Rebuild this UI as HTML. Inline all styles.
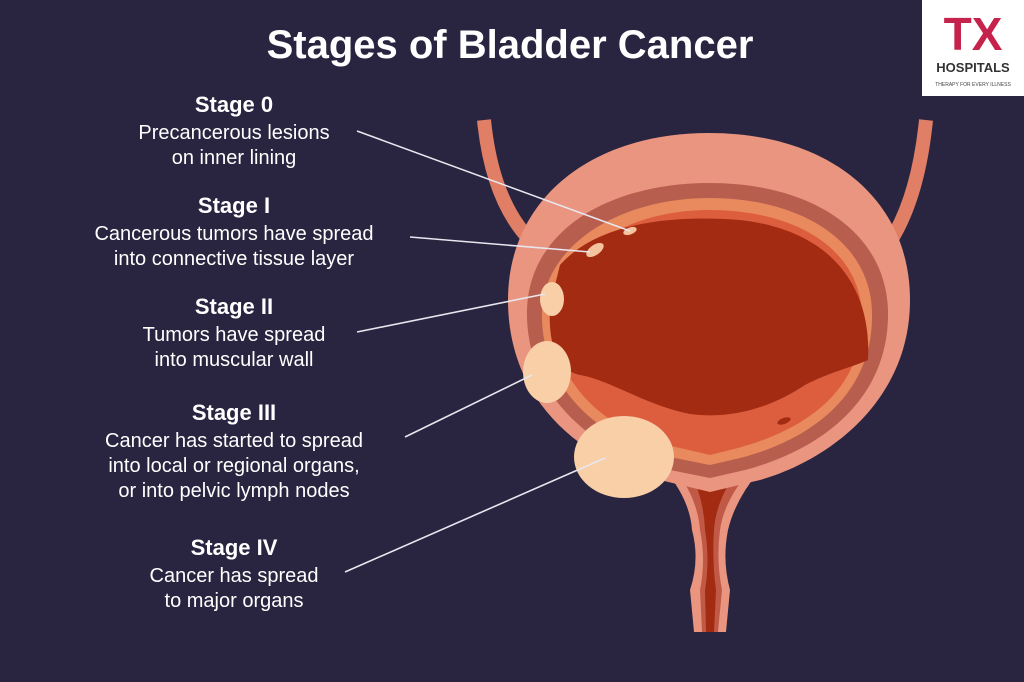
<!DOCTYPE html>
<html><head><meta charset="utf-8"><style>
html,body{margin:0;padding:0;background:#29243f;}
svg{display:block;}
text{font-family:"Liberation Sans",sans-serif;fill:#fff;}
</style></head><body>
<svg width="1024" height="682" viewBox="0 0 1024 682" xmlns="http://www.w3.org/2000/svg">
<rect width="1024" height="682" fill="#29243f"/>
<text x="510" y="58" font-size="40" font-weight="bold" text-anchor="middle">Stages of Bladder Cancer</text>
<rect x="922" y="0" width="102" height="96" fill="#fff"/>
<text x="973" y="50" font-size="46" font-weight="bold" text-anchor="middle" style="fill:#c5224c">TX</text>
<text x="973" y="72" font-size="13" font-weight="bold" text-anchor="middle" style="fill:#333">HOSPITALS</text>
<text x="973" y="86" font-size="5" text-anchor="middle" style="fill:#444">THERAPY FOR EVERY ILLNESS</text>
<path d="M484 120 Q492 200 530 240" stroke="#e07f66" stroke-width="14" fill="none"/>
<path d="M926 120 Q918 200 888 245" stroke="#e07f66" stroke-width="14" fill="none"/>
<path d="M665 470 Q690 500 692 530 Q700 560 690 590 L694 632 L726 632 L730 590 Q722 560 728 530 Q735 500 760 470 Z" fill="#e99580"/>
<path d="M675 468 Q698 500 700 530 Q706 560 700 590 L702 632 L718 632 L722 590 Q716 560 720 530 Q724 500 752 468 Z" fill="#c05a46"/>
<path d="M690 470 Q704 500 705 530 Q710 560 705 590 L706 632 L714 632 L716 590 Q712 560 714 530 Q716 500 738 470 Z" fill="#a32b12"/>
<path d="M709 133 C830 133 910 200 910 300 C910 400 830 460 760 480 L710 492 L660 480 C580 460 508 400 508 300 C508 200 590 133 709 133 Z" fill="#e99580"/>
<path d="M709 183 C810 183 885 230 888 310 C890 400 820 450 745 470 L710 478 L670 470 C600 455 525 400 527 310 C529 230 610 183 709 183 Z" fill="#b85e4e"/>
<path d="M709 198 C800 198 870 240 872 312 C874 395 810 440 740 458 L710 465 L675 458 C610 445 540 395 542 312 C544 245 620 198 709 198 Z" fill="#e88a5e"/>
<path d="M709 210 C795 210 860 248 862 315 C864 390 805 430 738 448 L710 455 L680 448 C615 435 552 390 554 315 C556 255 625 210 709 210 Z" fill="#dd5e3e"/>
<path d="M560 265 C600 220 680 215 740 220 C830 230 872 285 868 360 C850 368 830 372 805 385 C775 405 735 420 690 414 C645 405 610 380 580 375 C555 370 548 340 550 305 Z" fill="#a32b12"/>
<ellipse cx="784" cy="421" rx="7" ry="3" fill="#a32b12" transform="rotate(-20 784 421)"/>
<ellipse cx="630" cy="231" rx="7" ry="3.5" fill="#f4c49e" transform="rotate(-20 630 231)"/>
<ellipse cx="595" cy="250" rx="10" ry="5" fill="#f4c49e" transform="rotate(-35 595 250)"/>
<ellipse cx="552" cy="299" rx="12" ry="17" fill="#f8cfa6"/>
<ellipse cx="547" cy="372" rx="24" ry="31" fill="#f8cfa6"/>
<ellipse cx="624" cy="457" rx="50" ry="41" fill="#f8cfa6"/>
<g stroke="#e8e6ef" stroke-width="1.6">
<line x1="357" y1="131" x2="630" y2="231"/>
<line x1="410" y1="237" x2="590" y2="252"/>
<line x1="357" y1="332" x2="545" y2="294"/>
<line x1="405" y1="437" x2="532" y2="375"/>
<line x1="345" y1="572" x2="605" y2="458"/>
</g>
<g text-anchor="middle" font-size="20">
<text x="234" y="112" font-weight="bold" font-size="22">Stage 0</text>
<text x="234" y="139">Precancerous lesions</text>
<text x="234" y="164">on inner lining</text>
<text x="234" y="213" font-weight="bold" font-size="22">Stage I</text>
<text x="234" y="240">Cancerous tumors have spread</text>
<text x="234" y="265">into connective tissue layer</text>
<text x="234" y="314" font-weight="bold" font-size="22">Stage II</text>
<text x="234" y="341">Tumors have spread</text>
<text x="234" y="366">into muscular wall</text>
<text x="234" y="420" font-weight="bold" font-size="22">Stage III</text>
<text x="234" y="447">Cancer has started to spread</text>
<text x="234" y="472">into local or regional organs,</text>
<text x="234" y="497">or into pelvic lymph nodes</text>
<text x="234" y="555" font-weight="bold" font-size="22">Stage IV</text>
<text x="234" y="582">Cancer has spread</text>
<text x="234" y="607">to major organs</text>
</g>
</svg>
</body></html>
